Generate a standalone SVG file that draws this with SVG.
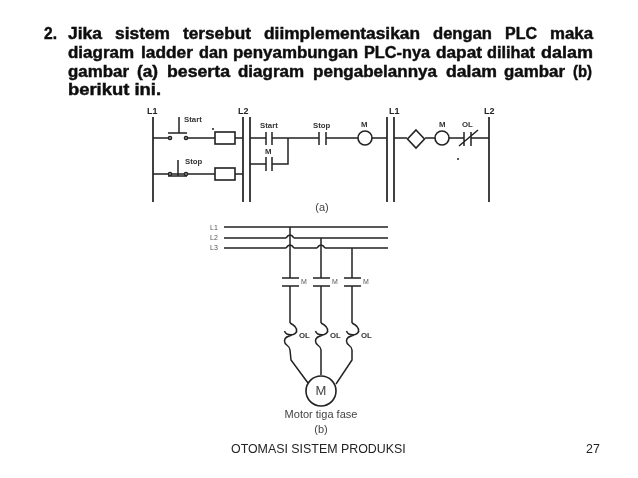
<svg xmlns="http://www.w3.org/2000/svg" width="638" height="478" viewBox="0 0 638 478">
<defs>
<filter id="soft" x="0" y="0" width="100%" height="100%"><feGaussianBlur stdDeviation="0.3"/></filter>
<path id="ol" class="w" d="M0 323C4 325 7 328 6.500 331C6 336 -4 336 -5.500 331M7 331C5 337 -5.500 334 -5.500 341C-5.500 346 0 345 0 350"/>
</defs>
<style>
.h{font:bold 15.800px "Liberation Sans",Arial,sans-serif;fill:#111;stroke:#111;stroke-width:.45}
.l{font:bold 7.800px "Liberation Sans",Arial,sans-serif;fill:#333}
.b{font:bold 9px "Liberation Sans",Arial,sans-serif;fill:#222}
.s{font:7px "Liberation Sans",Arial,sans-serif;fill:#555}
.c{font:11px "Liberation Sans",Arial,sans-serif;fill:#444;text-anchor:middle}
.f{font:12.400px "Liberation Sans",Arial,sans-serif;fill:#222}
.w{fill:none;stroke:#222;stroke-width:1.5}
.t{fill:none;stroke:#222;stroke-width:1.7}
.n{fill:#fff;stroke:#222;stroke-width:1.6}
</style>
<rect width="638" height="478" fill="#fff"/>
<g filter="url(#soft)">
<g id="heading">
<text class="h" y="38.500" x="44" textLength="13" lengthAdjust="spacingAndGlyphs">2.</text>
<text class="h" y="38.500" x="68" textLength="34" lengthAdjust="spacingAndGlyphs">Jika</text>
<text class="h" y="38.500" x="115" textLength="55" lengthAdjust="spacingAndGlyphs">sistem</text>
<text class="h" y="38.500" x="183" textLength="68" lengthAdjust="spacingAndGlyphs">tersebut</text>
<text class="h" y="38.500" x="264" textLength="156" lengthAdjust="spacingAndGlyphs">diimplementasikan</text>
<text class="h" y="38.500" x="433" textLength="59" lengthAdjust="spacingAndGlyphs">dengan</text>
<text class="h" y="38.500" x="505" textLength="32" lengthAdjust="spacingAndGlyphs">PLC</text>
<text class="h" y="38.500" x="550" textLength="43" lengthAdjust="spacingAndGlyphs">maka</text>
<text class="h" y="57.500" x="68" textLength="66" lengthAdjust="spacingAndGlyphs">diagram</text>
<text class="h" y="57.500" x="141" textLength="52" lengthAdjust="spacingAndGlyphs">ladder</text>
<text class="h" y="57.500" x="199" textLength="29" lengthAdjust="spacingAndGlyphs">dan</text>
<text class="h" y="57.500" x="233" textLength="125" lengthAdjust="spacingAndGlyphs">penyambungan</text>
<text class="h" y="57.500" x="364" textLength="66" lengthAdjust="spacingAndGlyphs">PLC-nya</text>
<text class="h" y="57.500" x="436" textLength="46" lengthAdjust="spacingAndGlyphs">dapat</text>
<text class="h" y="57.500" x="487" textLength="48" lengthAdjust="spacingAndGlyphs">dilihat</text>
<text class="h" y="57.500" x="541" textLength="52" lengthAdjust="spacingAndGlyphs">dalam</text>
<text class="h" y="76.700" x="68" textLength="61" lengthAdjust="spacingAndGlyphs">gambar</text>
<text class="h" y="76.700" x="137" textLength="21" lengthAdjust="spacingAndGlyphs">(a)</text>
<text class="h" y="76.700" x="167" textLength="63" lengthAdjust="spacingAndGlyphs">beserta</text>
<text class="h" y="76.700" x="238" textLength="66" lengthAdjust="spacingAndGlyphs">diagram</text>
<text class="h" y="76.700" x="313" textLength="124" lengthAdjust="spacingAndGlyphs">pengabelannya</text>
<text class="h" y="76.700" x="446" textLength="51" lengthAdjust="spacingAndGlyphs">dalam</text>
<text class="h" y="76.700" x="504" textLength="61" lengthAdjust="spacingAndGlyphs">gambar</text>
<text class="h" y="76.700" x="573" textLength="19" lengthAdjust="spacingAndGlyphs">(b)</text>
<text class="h" y="95" x="68" textLength="93" lengthAdjust="spacingAndGlyphs">berikut ini.</text>
</g>
<g id="connectors">
<path class="t" d="M153 117V202M243 117V202M250 117V202M387 117V202M394 117V202M489 117V202"/>
<path class="w" d="M153 138H170M186 138H215M235 138H243M153 174H215M235 174H243"/>
<path class="w" d="M168 133H187M179 117V133M168 176H187M178 160V176"/>
<path class="w" d="M250 138H266M266 132V145M272 132V145M272 138H319M319 132V145M326 132V145M326 138H358M372 138H387"/>
<path class="w" d="M250 164H266M266 157V171M272 157V171M272 164H288V138"/>
<path class="w" d="M394 138H407M425 138H435M449 138H464M464 132V146M471 132V146M459 146L478 130M471 138H489"/>
<path class="w" d="M224 227H388M224 238H286M294 238H388M224 248H286M294 248H317M325 248H388"/>
<path class="w" d="M290 227V278M321 238V278M352 248V278M282 278H299M313 278H330M344 278H361M282 286H299M313 286H330M344 286H361M290 286V323M321 286V323M352 286V323"/>
<path class="w" d="M286 238Q290 232 294 238M286 248Q290 242 294 248M317 248Q321 242 325 248"/>
<use href="#ol" x="290"/><use href="#ol" x="321"/><use href="#ol" x="352"/>
<path class="w" d="M290 350L291 360L308 383M321 350V375M352 350V360L336 384"/>
</g>
<g id="start-button"><circle class="n" cx="170" cy="138" r="1.500"/><circle class="n" cx="186" cy="138" r="1.500"/><text class="l" x="184" y="122">Start</text></g>
<g id="stop-button"><circle class="n" cx="170" cy="174" r="1.500"/><circle class="n" cx="186" cy="174" r="1.500"/><text class="l" x="185" y="164">Stop</text></g>
<g id="input-1"><rect class="n" x="215" y="132" width="20" height="12"/></g>
<g id="input-2"><rect class="n" x="215" y="168" width="20" height="12"/></g>
<g id="dots"><circle cx="213" cy="129" r="1" fill="#222"/><circle cx="458" cy="159" r="1" fill="#222"/></g>
<g id="contact-labels">
<text class="l" x="260" y="128">Start</text><text class="l" x="313" y="128">Stop</text><text class="l" x="265" y="154">M</text><text class="l" x="361" y="127">M</text>
<text class="l" x="439" y="127">M</text><text class="l" x="462" y="127">OL</text>
</g>
<g id="coil-m"><circle class="n" cx="365" cy="138" r="7"/></g>
<g id="diamond"><path class="n" d="M416 130L424.500 139L416 148L407.500 139Z"/></g>
<g id="coil-m2"><circle class="n" cx="442" cy="138" r="7"/></g>
<g id="rail-labels">
<text class="b" x="147" y="114">L1</text><text class="b" x="238" y="114">L2</text><text class="b" x="389" y="114">L1</text><text class="b" x="484" y="114">L2</text>
<text class="s" x="210" y="230">L1</text><text class="s" x="210" y="240">L2</text><text class="s" x="210" y="250">L3</text>
<text class="s" x="301" y="284">M</text><text class="s" x="332" y="284">M</text><text class="s" x="363" y="284">M</text>
<text class="l" x="299" y="338">OL</text><text class="l" x="330" y="338">OL</text><text class="l" x="361" y="338">OL</text>
</g>
<g id="motor"><circle class="n" cx="321" cy="391" r="15"/><text x="321" y="395" class="c" style="font-size:13px">M</text></g>
<g id="captions">
<text class="c" x="322" y="211">(a)</text><text class="c" x="321" y="418">Motor tiga fase</text><text class="c" x="321" y="433">(b)</text>
</g>
<g id="footer"><text class="f" x="231" y="453">OTOMASI SISTEM PRODUKSI</text><text class="f" x="586" y="453">27</text></g>
</g>
</svg>
